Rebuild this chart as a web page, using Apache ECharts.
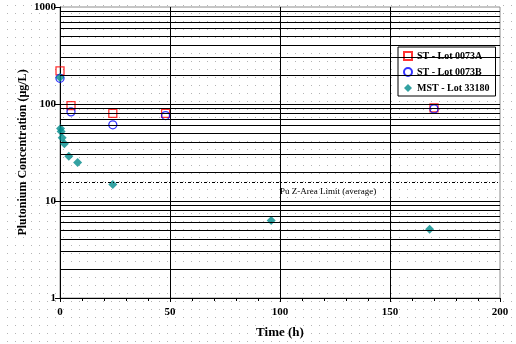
<!DOCTYPE html>
<html>
<head>
<meta charset="utf-8">
<script src="https://cdn.jsdelivr.net/npm/echarts@6/dist/echarts.min.js"></script>
<style>
  html, body { margin: 0; padding: 0; background: #fff; }
  #chart { width: 516px; height: 344px; }
</style>
</head>
<body>
<div id="chart"></div>
<script>
// data
var stTimes = [0, 5, 24, 48, 170]
var stA = [220, 96, 80, 80, 91]          // ST - Lot 0073A
var stB = [184, 83, 61, 76, 89]          // ST - Lot 0073B
var mstTimes = [0, 0.25, 0.5, 1, 2, 4, 8, 24, 96, 168]
var mst = [188, 56, 52, 45, 39, 29, 25, 14.8, 6.3, 5.1]   // MST - Lot 33180
var limitValue = 15.5
var yGridLines = [2, 3, 4, 5, 6, 7, 8, 9, 10, 20, 30, 40, 50, 60, 70, 80, 90, 100, 200, 300, 400, 500, 600, 700, 800, 900]
var xGridLines = [50, 100, 150]

function pairs(xs, ys) {
  return xs.map(function (x, i) { return [x, ys[i]] })
}

// dotted page background
var dots = document.createElement('canvas')
dots.width = 8
dots.height = 8
var ctx = dots.getContext('2d')
ctx.fillStyle = '#fff'
ctx.fillRect(0, 0, 8, 8)
ctx.fillStyle = '#b4b4b4'
ctx.fillRect(7, 5, 1, 1)

var serif = '"Liberation Serif", "DejaVu Serif", serif'
var chart = echarts.init(document.getElementById('chart'))

var gridLines = yGridLines.map(function (v) { return { yAxis: v } })
  .concat(xGridLines.map(function (v) { return { xAxis: v } }))

var option = {
  animation: false,
  backgroundColor: { image: dots, repeat: 'repeat' },
  grid: {
    left: 60, right: 16, top: 7, bottom: 45,
    show: true,
    borderColor: '#8c8c8c',
    borderWidth: 1,
    backgroundColor: 'transparent'
  },
  legend: {
    orient: 'vertical',
    left: 398, top: 47,
    padding: [4, 6, 3, 5],
    itemGap: 6,
    itemWidth: 8,
    itemHeight: 8,
    backgroundColor: '#fff',
    borderColor: '#000',
    borderWidth: 1,
    textStyle: { fontFamily: serif, fontWeight: 'bold', fontSize: 10, color: '#000' },
    data: ['ST - Lot 0073A', 'ST - Lot 0073B', 'MST - Lot 33180']
  },
  xAxis: {
    type: 'value',
    min: 0, max: 200, interval: 50,
    name: 'Time (h)',
    nameLocation: 'middle',
    nameGap: 28,
    nameMoveOverlap: false,
    nameTextStyle: { fontFamily: serif, fontWeight: 'bold', fontSize: 13, color: '#000' },
    axisLine: { lineStyle: { color: '#000', width: 1 } },
    axisTick: { length: 4, lineStyle: { color: '#000' } },
    minorTick: { show: true, splitNumber: 5, length: 3, lineStyle: { color: '#000' } },
    axisLabel: { fontFamily: serif, fontWeight: 'bold', fontSize: 11, color: '#000', margin: 9 },
    splitLine: { show: false }
  },
  yAxis: {
    type: 'log',
    logBase: 10,
    min: 1, max: 1000,
    name: 'Plutonium Concentration (\u00b5g/L)',
    nameLocation: 'middle',
    nameGap: 31,
    nameMoveOverlap: false,
    nameTextStyle: { fontFamily: serif, fontWeight: 'bold', fontSize: 12, color: '#000' },
    axisLine: { show: true, lineStyle: { color: '#000', width: 1 } },
    axisTick: { length: 5, lineStyle: { color: '#000' } },
    axisLabel: {
      fontFamily: serif, fontWeight: 'bold', fontSize: 11, color: '#000', margin: 4,
      formatter: function (v) { return String(Math.round(v)) }
    },
    splitLine: { show: false }
  },
  series: [
    {
      name: 'gridlines',
      type: 'line',
      data: [],
      silent: true,
      markLine: {
        silent: true,
        symbol: 'none',
        label: { show: false },
        lineStyle: { color: '#000', width: 1, type: 'solid' },
        data: gridLines
      }
    },
    {
      name: 'limit',
      type: 'line',
      data: [],
      silent: true,
      markLine: {
        silent: true,
        symbol: 'none',
        lineStyle: { color: '#000', width: 1, type: [3, 2, 1, 2] },
        label: {
          show: true,
          position: 'insideMiddleBottom',
          align: 'left',
          formatter: 'Pu Z-Area Limit (average)',
          fontFamily: serif,
          fontSize: 9,
          color: '#000',
          distance: 5
        },
        data: [{ yAxis: limitValue }]
      }
    },
    {
      name: 'ST - Lot 0073A',
      type: 'scatter',
      symbol: 'rect',
      symbolSize: 8,
      itemStyle: { color: 'rgba(255,255,255,0)', borderColor: '#ff0000', borderWidth: 1.3 },
      data: pairs(stTimes, stA),
      z: 3
    },
    {
      name: 'ST - Lot 0073B',
      type: 'scatter',
      symbol: 'circle',
      symbolSize: 8,
      itemStyle: { color: 'rgba(255,255,255,0)', borderColor: '#0000ff', borderWidth: 1.3 },
      data: pairs(stTimes, stB),
      z: 3
    },
    {
      name: 'MST - Lot 33180',
      type: 'scatter',
      symbol: 'diamond',
      symbolSize: 9,
      itemStyle: { color: '#008b8b' },
      data: pairs(mstTimes, mst),
      z: 4
    }
  ]
}
chart.setOption(option)
</script>
</body>
</html>
